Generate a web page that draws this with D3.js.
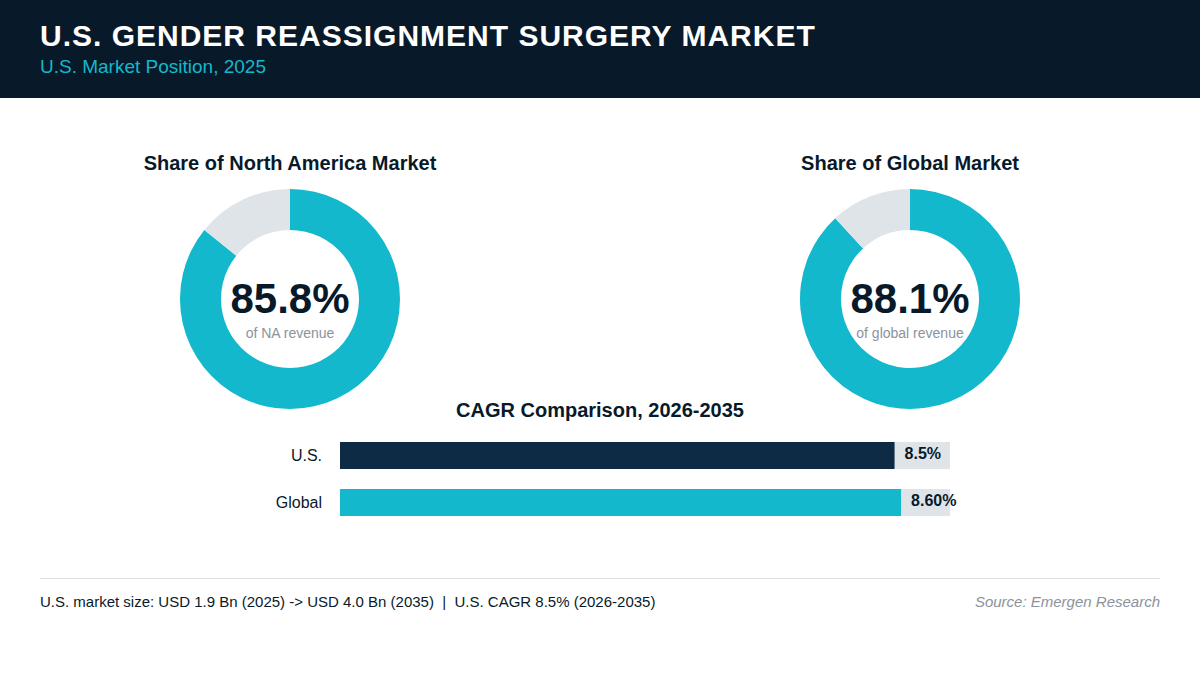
<!DOCTYPE html>
<html>
<head>
<meta charset="utf-8">
<style>
  html, body { margin: 0; padding: 0; background: #fff; }
  svg { display: block; }
  text { font-family: "Liberation Sans", Arial, sans-serif; }
</style>
</head>
<body>
<div id="chart"></div>
<script src="https://cdn.jsdelivr.net/npm/d3@7"></script>
<script>
var donutTitles = ["Share of North America Market", "Share of Global Market"];
var donutValues = [85.8, 88.1];
var donutLabels = ["85.8%", "88.1%"];
var donutSubs = ["of NA revenue", "of global revenue"];
var donutCentres = [290, 910];

var barNames = ["U.S.", "Global"];
var barValues = [8.5, 8.6];
var barLabels = ["8.5%", "8.60%"];
var barColors = ["#0d2b45", "#14b8cc"];
var barMax = 9.35;

var navy = "#081a29", teal = "#14b8cc", pale = "#dfe4e9", grey = "#8a939c";

var width = 1200, height = 675;

var svg = d3.select("#chart").append("svg")
    .attr("width", width)
    .attr("height", height);

// Header
svg.append("rect")
    .attr("width", width)
    .attr("height", 98)
    .attr("fill", navy);

svg.append("text")
    .attr("x", 40).attr("y", 46)
    .attr("fill", "#fff")
    .attr("font-size", 30)
    .attr("font-weight", 700)
    .attr("letter-spacing", 1)
    .text("U.S. GENDER REASSIGNMENT SURGERY MARKET");

svg.append("text")
    .attr("x", 40).attr("y", 73)
    .attr("fill", teal)
    .attr("font-size", 19)
    .text("U.S. Market Position, 2025");

// Donuts
var pie = d3.pie().sort(null).startAngle(0).endAngle(2 * Math.PI);
var arc = d3.arc().innerRadius(69).outerRadius(110);

donutValues.forEach(function(v, i) {
    var g = svg.append("g")
	.attr("transform", "translate(" + donutCentres[i] + ",299)");

    g.selectAll("path")
	.data(pie([v, 100 - v]))
	.enter().append("path")
	.attr("d", arc)
	.attr("fill", function(d, j) { return j == 0 ? teal : pale; });

    g.append("text")
	.attr("y", -129)
	.attr("text-anchor", "middle")
	.attr("fill", navy)
	.attr("font-size", 20)
	.attr("font-weight", 700)
	.text(donutTitles[i]);

    g.append("text")
	.attr("y", 14)
	.attr("text-anchor", "middle")
	.attr("fill", navy)
	.attr("font-size", 42)
	.attr("font-weight", 700)
	.text(donutLabels[i]);

    g.append("text")
	.attr("y", 39)
	.attr("text-anchor", "middle")
	.attr("fill", grey)
	.attr("font-size", 14)
	.text(donutSubs[i]);
});

// CAGR bars
svg.append("text")
    .attr("x", 600).attr("y", 417)
    .attr("text-anchor", "middle")
    .attr("fill", navy)
    .attr("font-size", 20)
    .attr("font-weight", 700)
    .text("CAGR Comparison, 2026-2035");

var x = d3.scaleLinear().domain([0, barMax]).range([340, 950]);
var y = d3.scaleBand().domain(barNames).range([432, 526]).paddingInner(20 / 47).paddingOuter(10 / 47);

svg.selectAll(".track")
    .data(barNames)
    .enter().append("rect")
    .attr("class", "track")
    .attr("x", x(0))
    .attr("y", function(d) { return y(d); })
    .attr("width", x(barMax) - x(0))
    .attr("height", y.bandwidth())
    .attr("fill", pale);

svg.selectAll(".bar")
    .data(barValues)
    .enter().append("rect")
    .attr("class", "bar")
    .attr("x", x(0))
    .attr("y", function(d, i) { return y(barNames[i]); })
    .attr("width", function(d) { return x(d) - x(0); })
    .attr("height", y.bandwidth())
    .attr("fill", function(d, i) { return barColors[i]; });

svg.selectAll(".name")
    .data(barNames)
    .enter().append("text")
    .attr("class", "name")
    .attr("x", 322)
    .attr("y", function(d) { return y(d) + y.bandwidth() / 2 + 5.5; })
    .attr("text-anchor", "end")
    .attr("fill", navy)
    .attr("font-size", 16)
    .text(function(d) { return d; });

svg.selectAll(".val")
    .data(barValues)
    .enter().append("text")
    .attr("class", "val")
    .attr("x", function(d) { return x(d) + 10; })
    .attr("y", function(d, i) { return y(barNames[i]) + y.bandwidth() / 2 + 3.6; })
    .attr("fill", navy)
    .attr("font-size", 16)
    .attr("font-weight", 700)
    .text(function(d, i) { return barLabels[i]; });

// Footer
svg.append("line")
    .attr("x1", 40).attr("x2", 1160)
    .attr("y1", 578.5).attr("y2", 578.5)
    .attr("stroke", "#dcdfe3");

svg.append("text")
    .attr("x", 40).attr("y", 607)
    .attr("fill", navy)
    .attr("font-size", 15)
    .text("U.S. market size: USD 1.9 Bn (2025) -> USD 4.0 Bn (2035)  |  U.S. CAGR 8.5% (2026-2035)")
    .style("white-space", "pre");

svg.append("text")
    .attr("x", 1160).attr("y", 607)
    .attr("text-anchor", "end")
    .attr("fill", grey)
    .attr("font-size", 15)
    .attr("font-style", "italic")
    .text("Source: Emergen Research");
</script>
</body>
</html>
